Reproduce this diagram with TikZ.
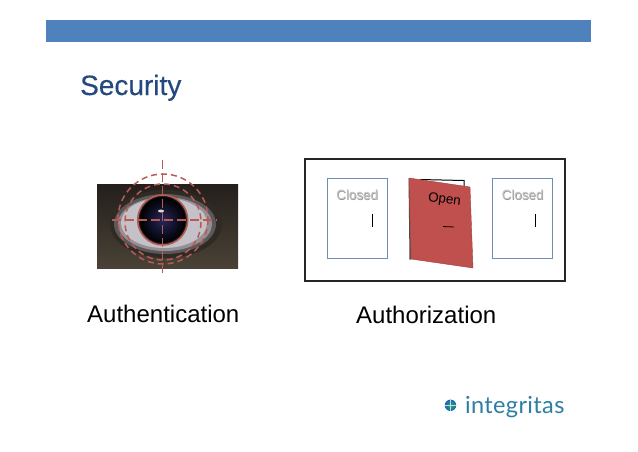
\documentclass[tikz,border=0pt]{standalone}
\usepackage{fontspec}
\setmainfont{Liberation Sans}
\newfontfamily\logofont[LetterSpace=1.5]{Lato}
\newfontfamily\titlefont[FakeBold=0.25]{Liberation Sans}
\definecolor{bar}{HTML}{4F81BD}
\definecolor{titleblue}{HTML}{24497F}
\definecolor{boxblue}{HTML}{6C8FB3}
\definecolor{doorred}{HTML}{C0504D}
\definecolor{markred}{HTML}{B85A56}
\definecolor{logoteal}{HTML}{2C7FA3}
\definecolor{eyetop}{HTML}{241F1D}
\definecolor{eyebot}{HTML}{4A4236}
\definecolor{sclera}{HTML}{C4C1C8}
\newcommand{\fs}[1]{\fontsize{#1}{#1}\selectfont}
\tikzset{
  lbl/.style={inner sep=0pt,anchor=base west,text=black,font=\fs{24}},
  docbox/.style={draw=boxblue,fill=white,line width=0.9pt},
  shadowbox/.style={fill=black!45!boxblue},
  closedtxt/.style={inner sep=0pt,font=\fs{13.4},text=black!25},
  closedshadow/.style={inner sep=0pt,font=\fs{13.4},text=black!42},
  ring/.style={draw=markred,line width=1.5pt,dash pattern=on 6pt off 4pt},
  hair/.style={draw=markred,line width=1.5pt,dash pattern=on 9pt off 4pt},
  tickline/.style={draw=black,line width=1pt}
}
\begin{document}
\begin{tikzpicture}[x=1pt,y=-1pt]
\useasboundingbox (0,0) rectangle (638,451);
\fill[white] (0,0) rectangle (638,451);
\fill[bar] (46,20) rectangle (591,42);
\node[inner sep=0pt,anchor=base west,text=titleblue,font=\titlefont\fs{28}] (title) at (80,95) {Security};
% eye
\shade[top color=eyetop,bottom color=eyebot] (97,184) rectangle (238,268);
\begin{scope}
\clip (97,184) rectangle (238,268);
\fill[eyetop!70!eyebot] (166,224) ellipse (56 and 34);
\fill[sclera!35!eyetop] (165,224) ellipse (51 and 30);
\fill[sclera!70!eyetop] (165,224) ellipse (47 and 27);
\fill[sclera] (164,223) ellipse (43 and 25);
\fill[black!88] (162.7,220) circle (25);
\shade[inner color=blue!25!black!85,outer color=black] (162.7,220) circle (23);
\fill[white!85!black] (161,211) ellipse (3 and 1.5);
\end{scope}
\draw[markred,line width=1.6pt] (162.7,220) circle (25);
\draw[ring] (163,219) circle (45);
\draw[ring] (163,222) circle (38);
\draw[hair] (162.7,160) -- (162.7,275);
\draw[hair] (112,220) -- (217,220);
\node[lbl] (authn) at (87,322) {Authentication};
% frame
\draw[black!85,line width=1.3pt] (305,159) rectangle (565,281);
\node[lbl] (authz) at (356,323) {Authorization};
% closed left
\fill[shadowbox] (328.2,179.2) rectangle (388.2,259.2);
\draw[docbox] (327,178) rectangle (387,258);
\node[closedshadow] at (357.8,195.6) {Closed};
\node[closedtxt] (c1) at (357.2,195) {Closed};
\draw[tickline] (372.4,214) -- (372.4,227);
% closed right
\fill[shadowbox] (493.2,179.2) rectangle (553.2,259.2);
\draw[docbox] (492,178) rectangle (552,258);
\node[closedshadow] at (523.3,195.6) {Closed};
\node[closedtxt] (c2) at (522.7,195) {Closed};
\draw[tickline] (535,214) -- (535,227);
% open door
\draw[black,line width=1pt,fill=white] (420,179.5) -- (464,180.5) -- (464,187);
\fill[black!70] (408.5,178) -- (409.5,259.5) -- (411,259.5) -- (410,178) -- cycle;
\fill[doorred,draw=doorred!80!black,line width=0.4pt] (409,178) -- (470,187) -- (473,268) -- (411,259) -- cycle;
\node[inner sep=0pt,font=\fs{13.4},text=black,rotate=-7] (open) at (444.5,200) {Open};
\draw[black,line width=0.8pt] (443,226.5) -- (454,227);
% logo
\shade[inner color=green!45!logoteal,outer color=blue!25!logoteal] (450.5,405.3) circle (5.7);
\draw[white!70!logoteal,line width=0.3pt] (444.8,405.3) -- (456.2,405.3) (450.5,399.6) -- (450.5,411);
\node[inner sep=0pt,anchor=base west,text=logoteal,font=\logofont\fs{23.5}] (logo) at (465,413.5) {integritas};
\end{tikzpicture}
\end{document}
